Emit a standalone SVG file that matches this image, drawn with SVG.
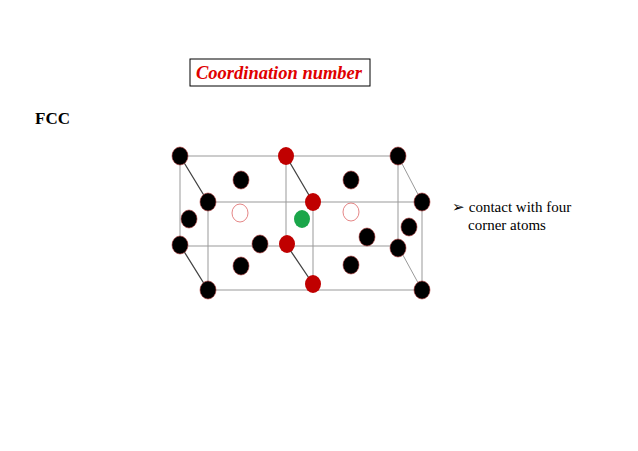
<svg xmlns="http://www.w3.org/2000/svg" width="638" height="451" viewBox="0 0 638 451">
<style>
.l{stroke:#999;stroke-width:1;fill:none}
.d{stroke:#444;stroke-width:1.3;fill:none}
.b{fill:#000;stroke:#a33;stroke-width:0.6}
.r{fill:#c00000}
.t{font-family:"Liberation Serif",serif}
</style>
<rect width="638" height="451" fill="#fff"/>
<g id="title"><rect x="190" y="59" width="180" height="27" fill="#fff" stroke="#000"/>
<text class="t" x="279" y="79" text-anchor="middle" font-size="18.5" font-weight="bold" font-style="italic" fill="#e00000">Coordination number</text></g>
<text class="t" x="35" y="124" font-size="17" font-weight="bold">FCC</text>
<g id="connectors">
<path class="l" d="M180 156H398V246H180Z M286 156V244 M208 202H422V290H208Z M313 202V284"/>
<path class="l" d="M398 156L422 202 M398 246L422 290"/>
<path class="d" d="M180 156L208 202 M180 245L208 290 M286 156L313 202 M286 244L313 284"/>
</g>
<g id="atoms">
<ellipse class="b" cx="180" cy="156" rx="8" ry="9"/>
<ellipse class="r" cx="286" cy="156" rx="8" ry="9"/>
<ellipse class="b" cx="398" cy="156" rx="8" ry="9"/>
<ellipse class="b" cx="180" cy="245" rx="8" ry="9"/>
<ellipse class="r" cx="287" cy="244" rx="8" ry="9"/>
<ellipse class="b" cx="398" cy="248" rx="8" ry="9"/>
<ellipse class="b" cx="208" cy="202" rx="8" ry="9"/>
<ellipse class="r" cx="313" cy="202" rx="8" ry="9"/>
<ellipse class="b" cx="422" cy="202" rx="8" ry="9"/>
<ellipse class="b" cx="208" cy="290" rx="8" ry="9"/>
<ellipse class="r" cx="313" cy="284" rx="8" ry="9"/>
<ellipse class="b" cx="422" cy="290" rx="8" ry="9"/>
<ellipse class="b" cx="241" cy="180" rx="8" ry="9"/>
<ellipse class="b" cx="351" cy="180" rx="8" ry="9"/>
<ellipse class="b" cx="241" cy="266" rx="8" ry="9"/>
<ellipse class="b" cx="351" cy="265" rx="8" ry="9"/>
<ellipse class="b" cx="189" cy="219" rx="8" ry="9"/>
<ellipse class="b" cx="409" cy="227" rx="8" ry="9"/>
<ellipse class="b" cx="260" cy="244" rx="8" ry="9"/>
<ellipse class="b" cx="367" cy="237" rx="8" ry="9"/>
<ellipse cx="240" cy="213" rx="8" ry="9" fill="#fff" stroke="#d66" stroke-width="0.8"/>
<ellipse cx="351" cy="212" rx="8" ry="9" fill="#fff" stroke="#d66" stroke-width="0.8"/>
<ellipse cx="302" cy="219" rx="8" ry="9" fill="#1aa64a"/>
</g>
<g id="note" class="t" font-size="15">
<text x="452" y="212">➢ contact with four</text>
<text x="468" y="230">corner atoms</text>
</g>
</svg>
